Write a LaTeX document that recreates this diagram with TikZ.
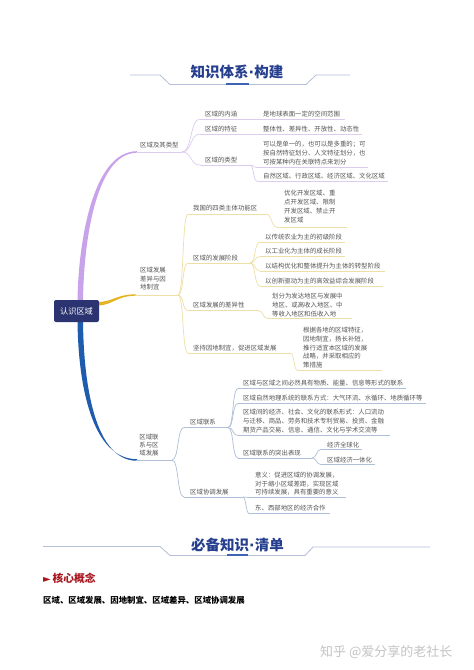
\documentclass[tikz,border=0pt]{standalone}
\usepackage{fontspec}
\newfontfamily\cjk{Noto Sans CJK SC}
\newfontfamily\dejavu{DejaVu Sans}
\definecolor{tgray}{HTML}{555555}
\definecolor{navy}{HTML}{2B3470}
\definecolor{ttlblue}{HTML}{253F8E}
\definecolor{decoc}{HTML}{B4BED6}
\definecolor{barc}{HTML}{3D63B5}
\definecolor{purp}{HTML}{C9A3EA}
\definecolor{gold}{HTML}{E6B422}
\definecolor{blu}{HTML}{1F5CAE}
\definecolor{lav}{HTML}{DCCDEE}
\definecolor{pgold}{HTML}{EEDFA6}
\definecolor{pblue}{HTML}{AFBFD8}
\definecolor{redc}{HTML}{A8151F}
\definecolor{wm}{HTML}{C4C4C4}
\newcommand\mmlink[4]{\draw[#1] (#2) .. controls +(#4,0) and +(-#4,0) .. (#3);}
\begin{document}
\begin{tikzpicture}[x=1pt,y=-1pt,
  txt/.style={font=\cjk\fontsize{6.4}{9}\selectfont, text=tgray, inner sep=0pt, anchor=base west},
  blk/.style={txt, align=left, anchor=north west},
  u1/.style={draw=lav, line width=0.7pt},
  u2/.style={draw=pgold, line width=0.7pt},
  u3/.style={draw=pblue, line width=0.7pt},
  ttl/.style={font=\cjk\bfseries\fontsize{14.5}{16}\selectfont, text=ttlblue, inner sep=0pt},
  deco/.style={draw=decoc, line width=0.8pt},
  bar/.style={draw=barc, line width=2pt},
  root/.style={fill=navy, rounded corners=2pt, minimum width=45pt, minimum height=22pt, inner sep=0pt,
     text=white, font=\cjk\fontsize{8.2}{9}\selectfont}
]
\useasboundingbox[fill=white] (0,0) rectangle (474,670);

% ---------- title 1
\node[ttl] (t1) at (237,72) {知识体系{\dejavu\bfseries ·}构建};
\draw[deco] (130,75) -- (160,75) -- (170,84.5) -- (306,84.5) -- (316,75) -- (350,75);
\draw[bar] (226,84) -- (249,84);

% ---------- main branches (tapered)
\fill[purp] (77.5,302) .. controls (78,245) and (92,151.2) .. (137,151.2) -- (137,152.8) .. controls (95,152.8) and (83.5,245) .. (83,302) -- cycle;
\fill[gold] (97,302) .. controls (113,302) and (116,294.3) .. (136,294.3) -- (136,295.7) .. controls (116,295.7) and (113,305.5) .. (97,305.5) -- cycle;
\fill[blu] (77.5,320) .. controls (78,385) and (92,459.2) .. (137,459.2) -- (137,460.8) .. controls (95,460.8) and (83.5,385) .. (83,320) -- cycle;

\node[root] (r) at (76.5,311) {认识区域};

% ---------- group 1
\node[txt] (a0) at (140,147.4) {区域及其类型};
\draw[u1] (136,152) coordinate (a0s) -- (182,152) coordinate (a0e);
\node[txt] (a1) at (205,116.4) {区域的内涵};
\draw[u1] (200,119) coordinate (a1s) -- (256,119) coordinate (a1e);
\node[txt] (a1c) at (263,116.4) {是地球表面一定的空间范围};
\draw[u1] (260,119) coordinate (a1cs) -- (345,119);
\node[txt] (a2) at (205,131.4) {区域的特征};
\draw[u1] (200,134) coordinate (a2s) -- (256,134) coordinate (a2e);
\node[txt] (a2c) at (263,131.4) {整体性、差异性、开放性、动态性};
\draw[u1] (260,134) coordinate (a2cs) -- (362,134);
\node[txt] (a3) at (205,162.4) {区域的类型};
\draw[u1] (200,165) coordinate (a3s) -- (250,165) coordinate (a3e);
\node[blk] (a3a) at (263,140.8) {可以是单一的，也可以是多重的；可\\按自然特征划分、人文特征划分，也\\可按某种内在关联特点来划分};
\draw[u1] (257,167.5) coordinate (a3as) -- (368,167.5);
\node[txt] (a3b) at (263,178.4) {自然区域、行政区域、经济区域、文化区域};
\draw[u1] (257,181) coordinate (a3bs) -- (388,181);
\mmlink{u1}{a0e}{a1s}{10}
\mmlink{u1}{a0e}{a2s}{10}
\mmlink{u1}{a0e}{a3s}{10}
\mmlink{u1}{a1e}{a1cs}{2}
\mmlink{u1}{a2e}{a2cs}{2}
\mmlink{u1}{a3e}{a3as}{4}
\mmlink{u1}{a3e}{a3bs}{4}

% ---------- group 2
\node[blk, font=\cjk\fontsize{6.4}{8.6}\selectfont] (b0) at (140,266.8) {区域发展\\差异与因\\地制宜};
\draw[u2] (135,295) coordinate (b0s) -- (178,295) coordinate (b0e);
\node[txt] (b1) at (193,210.4) {我国的四类主体功能区};
\draw[u2] (188,214) coordinate (b1s) -- (266,214) coordinate (b1e);
\node[blk] (b1a) at (284,189.8) {优化开发区域、重\\点开发区域、限制\\开发区域、禁止开\\发区域};
\draw[u2] (277,227) coordinate (b1as) -- (347,227);
\node[txt] (b2) at (193,260.4) {区域的发展阶段};
\draw[u2] (188,263) coordinate (b2s) -- (250,263) coordinate (b2e);
\node[txt] (b2a) at (265,239.4) {以传统农业为主的初级阶段};
\draw[u2] (260,242) coordinate (b2as) -- (345,242);
\node[txt] (b2b) at (265,253.9) {以工业化为主体的成长阶段};
\draw[u2] (260,256.5) coordinate (b2bs) -- (345,256.5);
\node[txt] (b2c) at (265,268.4) {以结构优化和整体提升为主体的转型阶段};
\draw[u2] (260,271) coordinate (b2cs) -- (385,271);
\node[txt] (b2d) at (265,283.4) {以创新驱动为主的高效益综合发展阶段};
\draw[u2] (260,286) coordinate (b2ds) -- (383,286);
\node[txt] (b3) at (193,307.4) {区域发展的差异性};
\draw[u2] (188,310.5) coordinate (b3s) -- (258,310.5) coordinate (b3e);
\node[blk] (b3a) at (272,292.8) {划分为发达地区与发展中\\地区、或高收入地区、中\\等收入地区和低收入地};
\draw[u2] (268,318.5) coordinate (b3as) -- (352,318.5);
\node[txt] (b4) at (193,350.4) {坚持因地制宜，促进区域发展};
\draw[u2] (188,353) coordinate (b4s) -- (290,353) coordinate (b4e);
\node[blk, font=\cjk\fontsize{6.4}{8.8}\selectfont] (b4a) at (303,326.8) {根据各地的区域特征，\\因地制宜，扬长补短，\\推行适宜本区域的发展\\战略，并采取相应的\\策措施};
\draw[u2] (298,370.5) coordinate (b4as) -- (382,370.5);
\mmlink{u2}{b0e}{b1s}{6}
\mmlink{u2}{b0e}{b2s}{6}
\mmlink{u2}{b0e}{b3s}{6}
\mmlink{u2}{b0e}{b4s}{6}
\mmlink{u2}{b1e}{b1as}{6}
\mmlink{u2}{b2e}{b2as}{6}
\mmlink{u2}{b2e}{b2bs}{6}
\mmlink{u2}{b2e}{b2cs}{6}
\mmlink{u2}{b2e}{b2ds}{6}
\mmlink{u2}{b3e}{b3as}{6}
\mmlink{u2}{b4e}{b4as}{5}

% ---------- group 3
\node[txt, align=center, anchor=north, font=\cjk\fontsize{6.4}{8.3}\selectfont] (c0) at (149,433.8) {区域联\\系与区\\域发展};
\draw[u3] (136,460) coordinate (c0s) -- (172,460) coordinate (c0e);
\node[txt] (c1) at (190,424.4) {区域联系};
\draw[u3] (184,427.5) coordinate (c1s) -- (228,427.5) coordinate (c1e);
\node[txt] (c1a) at (243,385.4) {区域与区域之间必然具有物质、能量、信息等形式的联系};
\draw[u3] (238,388.5) coordinate (c1as) -- (406,388.5);
\node[txt] (c1b) at (243,400.4) {区域自然地理系统的联系方式：大气环流、水循环、地质循环等};
\draw[u3] (238,403.5) coordinate (c1bs) -- (426,403.5);
\node[blk] (c1c) at (243,408.8) {区域间的经济、社会、文化的联系形式：人口流动\\与迁移、商品、劳务和技术专利贸易、投资、金融\\期货产品交易、信息、通信、文化与学术交流等};
\draw[u3] (238,435.5) coordinate (c1cs) -- (390,435.5);
\node[txt] (c1d) at (243,455) {区域联系的突出表现};
\draw[u3] (238,458) coordinate (c1ds) -- (312,458) coordinate (c1de);
\node[txt] (c1d1) at (327,447) {经济全球化};
\draw[u3] (321,449.5) coordinate (c1d1s) -- (362,449.5);
\node[txt] (c1d2) at (327,462) {区域经济一体化};
\draw[u3] (321,464.5) coordinate (c1d2s) -- (375,464.5);
\node[txt] (c2) at (190,494.4) {区域协调发展};
\draw[u3] (184,497) coordinate (c2s) -- (243,497) coordinate (c2e);
\node[blk, font=\cjk\fontsize{6.4}{8.6}\selectfont] (c2a) at (255,471.8) {意义：促进区域的协调发展，\\对于缩小区域差距，实现区域\\可持续发展，具有重要的意义};
\draw[u3] (249,497.5) coordinate (c2as) -- (346,497.5);
\node[txt] (c2b) at (255,510.7) {东、西部地区的经济合作};
\draw[u3] (249,513.5) coordinate (c2bs) -- (330,513.5);
\mmlink{u3}{c0e}{c1s}{7}
\mmlink{u3}{c0e}{c2s}{7}
\mmlink{u3}{c1e}{c1as}{6}
\mmlink{u3}{c1e}{c1bs}{6}
\mmlink{u3}{c1e}{c1cs}{6}
\mmlink{u3}{c1e}{c1ds}{6}
\mmlink{u3}{c1de}{c1d1s}{5}
\mmlink{u3}{c1de}{c1d2s}{5}
\mmlink{u3}{c2e}{c2as}{3}
\mmlink{u3}{c2e}{c2bs}{3}

% ---------- title 2
\node[ttl] (t2) at (237.5,545) {必备知识{\dejavu\bfseries ·}清单};
\draw[deco] (43,546.5) -- (160,546.5) -- (170,555.5) -- (305,555.5) -- (313,547) -- (430,547);
\draw[bar] (227,554.5) -- (248,554.5);

\node[anchor=west, inner sep=0pt, text=redc] (k) at (43,578) {{\dejavu\fontsize{10}{11}\selectfont ►}\,{\cjk\bfseries\fontsize{10.8}{12}\selectfont 核心概念}};
\node[anchor=west, inner sep=0pt, text=black, font=\cjk\bfseries\fontsize{8.4}{10}\selectfont] (kc) at (43,600) {区域、区域发展、因地制宜、区域差异、区域协调发展};

\node[anchor=west, inner sep=0pt, text=wm, font=\cjk\fontsize{13}{14}\selectfont] (w) at (320,652) {知乎 @爱分享的老社长};
\end{tikzpicture}
\end{document}
